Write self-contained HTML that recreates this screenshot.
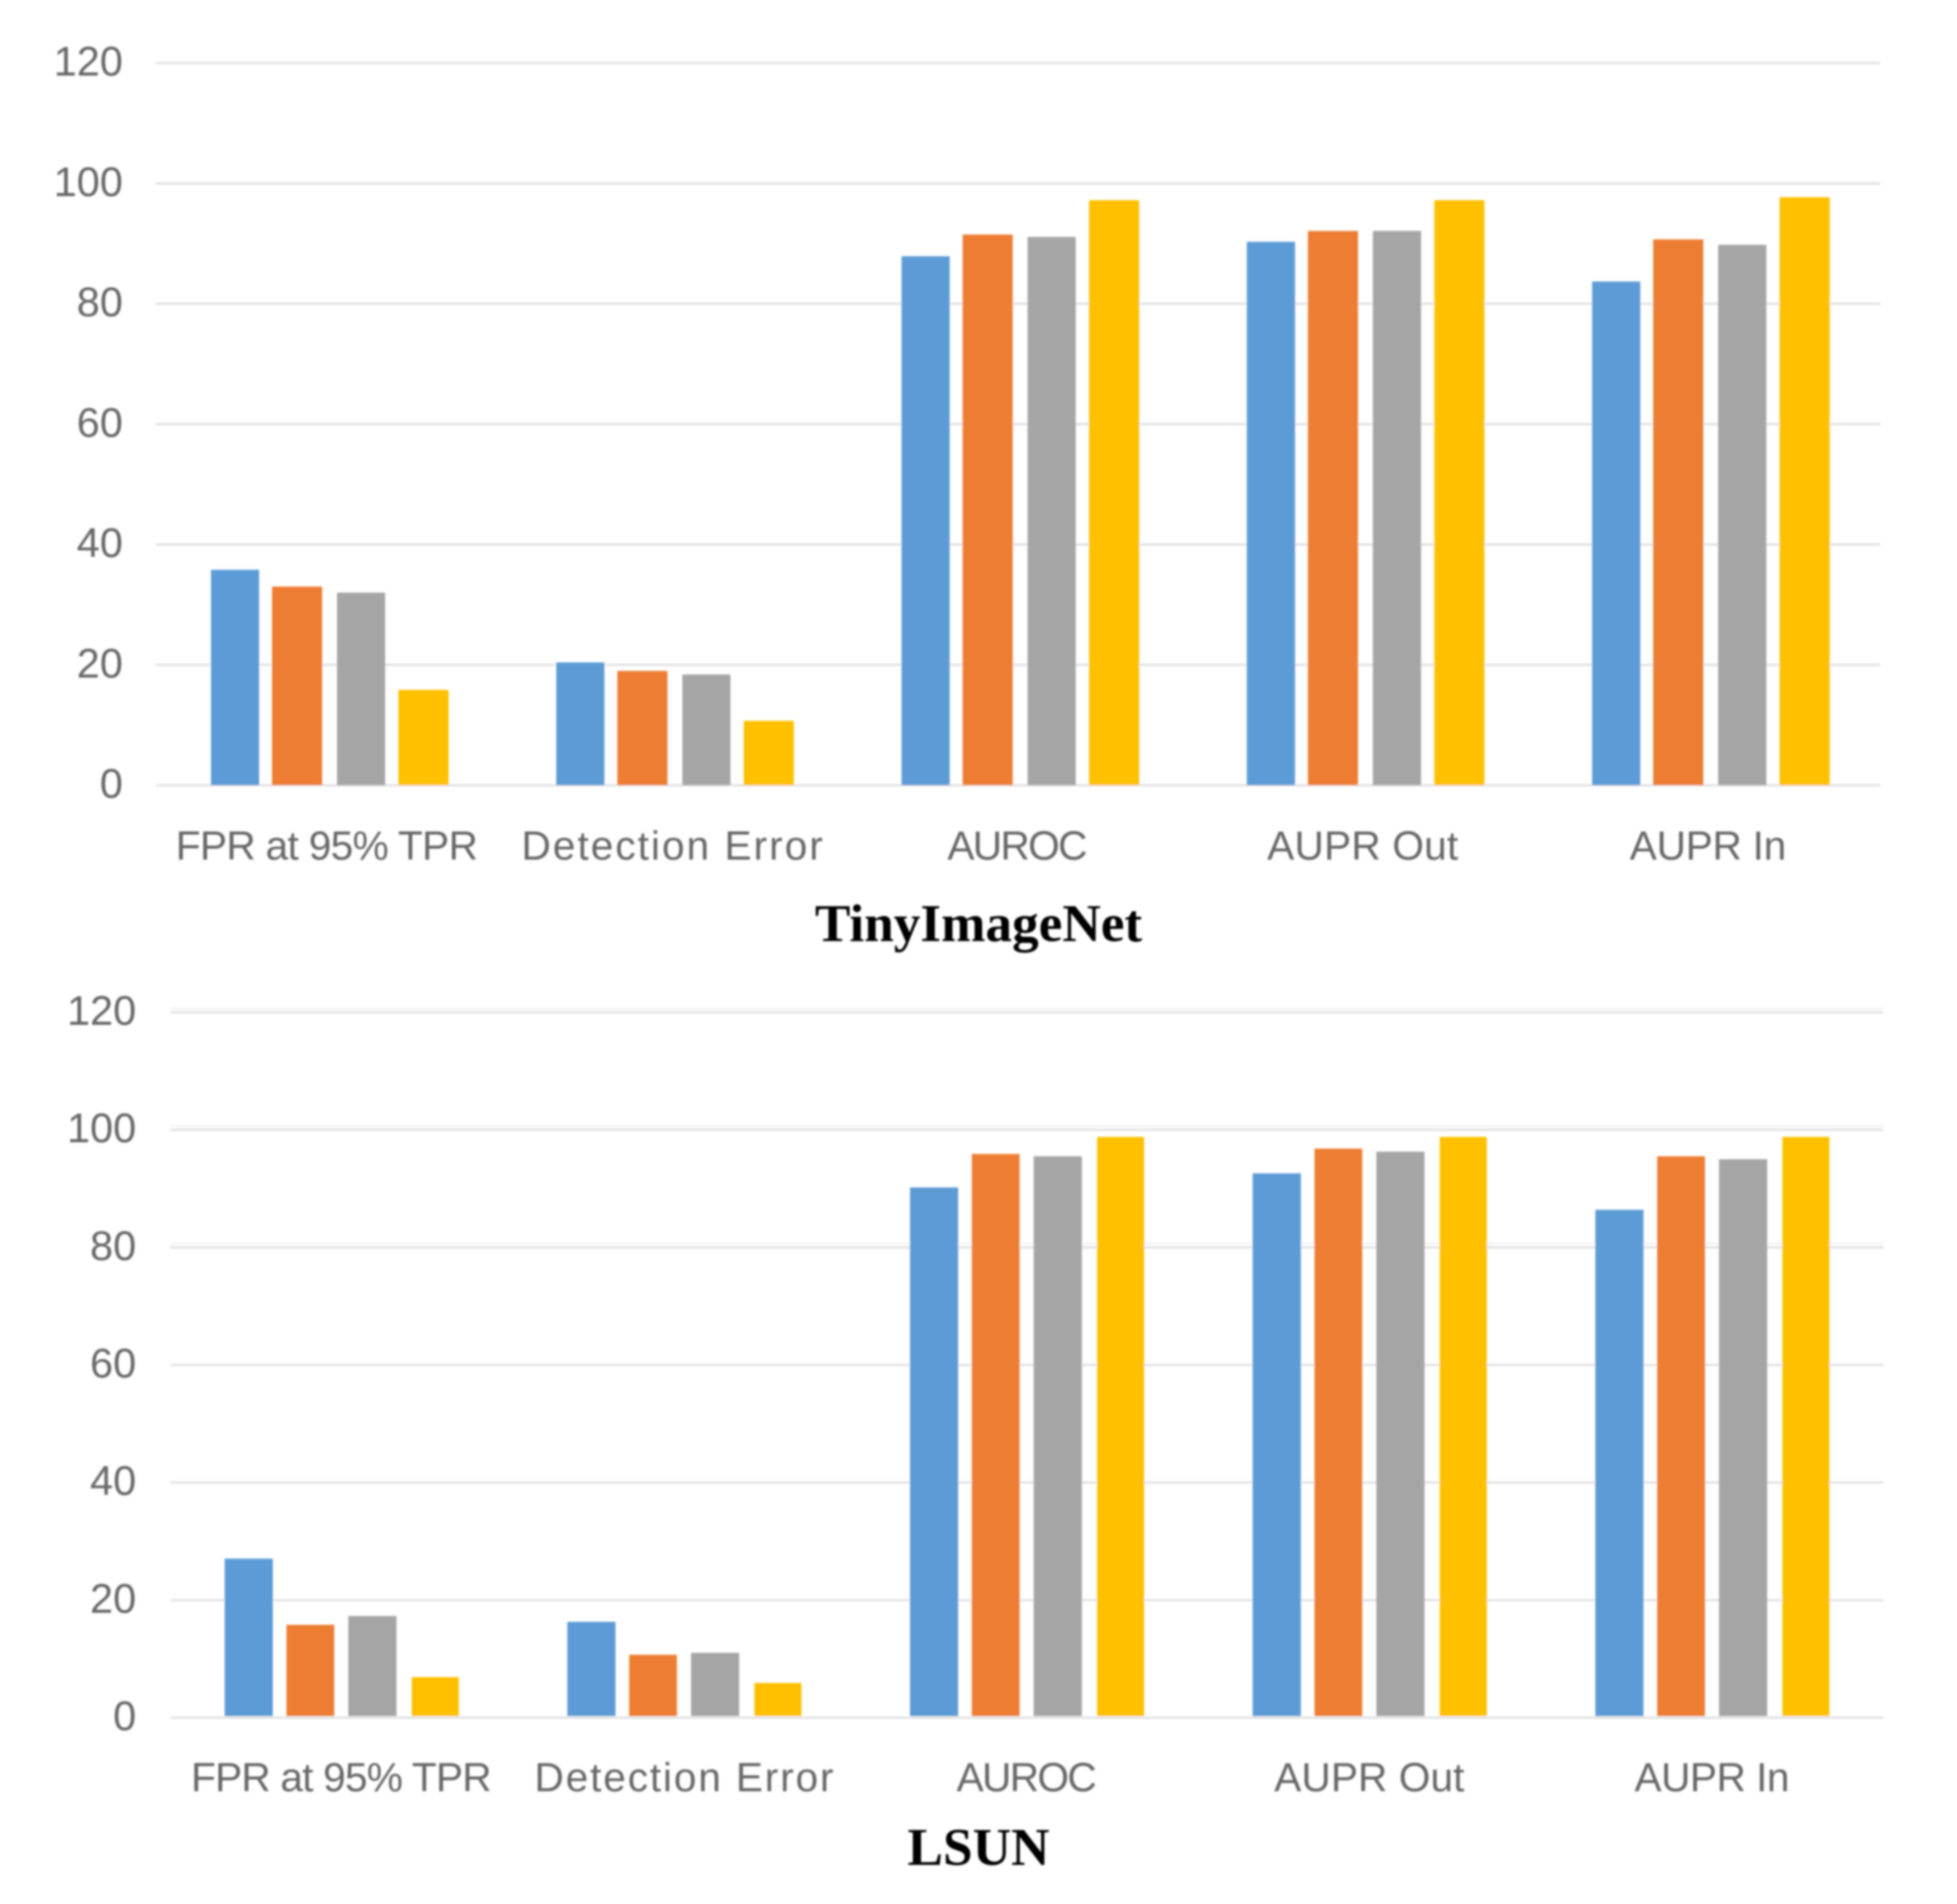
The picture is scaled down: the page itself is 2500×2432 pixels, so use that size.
<!DOCTYPE html>
<html lang="en">
<head>
<meta charset="utf-8">
<title>TinyImageNet and LSUN detection metrics</title>
<style>
  html, body { margin: 0; padding: 0; background: #ffffff; }
  #figure { display: block; width: 2500px; height: 2432px; }
  .tick, .cat { font-family: "Liberation Sans", sans-serif; fill: #666666; }
  .tick { font-size: 53px; }
  .cat { font-size: 52px; }
  .title { font-family: "Liberation Serif", serif; font-weight: bold; font-size: 68px; fill: #000000; }
</style>
</head>
<body>
<svg id="figure" xmlns="http://www.w3.org/2000/svg" width="2500" height="2432" viewBox="0 0 2500 2432">
  <defs><filter id="soft" x="-5%" y="-5%" width="110%" height="110%"><feGaussianBlur stdDeviation="1.2"/></filter></defs>
  <rect width="2500" height="2432" fill="#ffffff"/>
  <g id="chart-tiny" filter="url(#soft)"></g>
  <g id="chart-lsun" filter="url(#soft)"></g>
</svg>
<script>
const categories = ["FPR at 95% TPR", "Detection Error", "AUROC", "AUPR Out", "AUPR In"];
const tickLabels = [0, 20, 40, 60, 80, 100, 120];
const seriesColors = ["#5b9bd5", "#ed7d31", "#a5a5a5", "#ffc000"];

const tinySeries1 = [35.8, 20.4, 87.9, 90.3, 83.7];
const tinySeries2 = [33.0, 19.0, 91.5, 92.1, 90.7];
const tinySeries3 = [32.0, 18.4, 91.1, 92.1, 89.8];
const tinySeries4 = [15.85, 10.7, 97.2, 97.2, 97.7];

const lsunSeries1 = [27.06, 16.3, 90.2, 92.6, 86.4];
const lsunSeries2 = [15.8, 10.7, 95.9, 96.8, 95.5];
const lsunSeries3 = [17.3, 11.04, 95.5, 96.3, 95.0];
const lsunSeries4 = [6.9, 5.9, 98.8, 98.8, 98.8];

const NS = "http://www.w3.org/2000/svg";

function make(parent, tag, attrs, text) {
  const el = document.createElementNS(NS, tag);
  Object.keys(attrs).forEach(function (k) { el.setAttribute(k, attrs[k]); });
  if (text !== undefined) el.textContent = text;
  parent.appendChild(el);
  return el;
}

function drawChart(root, cfg, series) {
  const yScale = function (v) { return cfg.yZero - (v / 120) * (cfg.yZero - cfg.yTop); };
  const xBand = function (i) { return cfg.xFirst + i * cfg.xStep; };

  tickLabels.forEach(function (t) {
    const line = make(root, "line", { x1: cfg.xLeft, x2: cfg.xRight, y1: yScale(t), y2: yScale(t), stroke: "#e2e2e2", "stroke-width": 3 });
    
    
    if (cfg.ghostLines && t >= 80) {
      const ghost = make(root, "line", { x1: cfg.xLeft, x2: cfg.xRight, y1: yScale(t) - 5, y2: yScale(t) - 5, stroke: "#f0f0f0", "stroke-width": 2 });
      
      
    }
    const label = make(root, "text", { class: "tick", x: cfg.tickRight, y: yScale(t) + 16, "text-anchor": "end" }, String(t));
    
    
  });

  series.forEach(function (values, s) {
    values.forEach(function (v, i) {
      const bar = make(root, "rect", {
        x: xBand(i) + cfg.offsets[s],
        y: yScale(v),
        width: cfg.barWidths[s],
        height: yScale(0) - yScale(v) - cfg.baseInset,
        fill: seriesColors[s]
      });
      
      
    });
  });

  categories.forEach(function (c, i) {
    const label = make(root, "text", {
      class: "cat",
      x: xBand(i) + cfg.labelShift,
      y: cfg.labelY,
      "text-anchor": "middle",
      textLength: cfg.labelLengths[i],
      lengthAdjust: "spacing"
    }, c);
    
    
  });

  const title = make(root, "text", { class: "title", x: cfg.titleX, y: cfg.titleY, "text-anchor": "middle" }, cfg.title);
  
  
}

drawChart(document.getElementById("chart-tiny"), {
  yZero: 1003, yTop: 80.5, xLeft: 199, xRight: 2402, xFirst: 269.5, xStep: 441.1,
  offsets: [0, 78, 161, 239.5], barWidths: [61.5, 64, 61.5, 64], baseInset: 0,
  tickRight: 157, labelShift: 148, labelY: 1098,
  labelLengths: [386, 385, 179, 244, 200], ghostLines: false,
  title: "TinyImageNet", titleX: 1250, titleY: 1202
}, [tinySeries1, tinySeries2, tinySeries3, tinySeries4]);

drawChart(document.getElementById("chart-lsun"), {
  yZero: 2194, yTop: 1293, xLeft: 218, xRight: 2406, xFirst: 287, xStep: 437.75,
  offsets: [0, 79, 158, 239], barWidths: [61.5, 61, 61.5, 60], baseInset: 2,
  tickRight: 174, labelShift: 149, labelY: 2288,
  labelLengths: [384, 382, 179, 243, 198], ghostLines: true,
  title: "LSUN", titleX: 1250, titleY: 2382
}, [lsunSeries1, lsunSeries2, lsunSeries3, lsunSeries4]);
</script>
</body>
</html>
